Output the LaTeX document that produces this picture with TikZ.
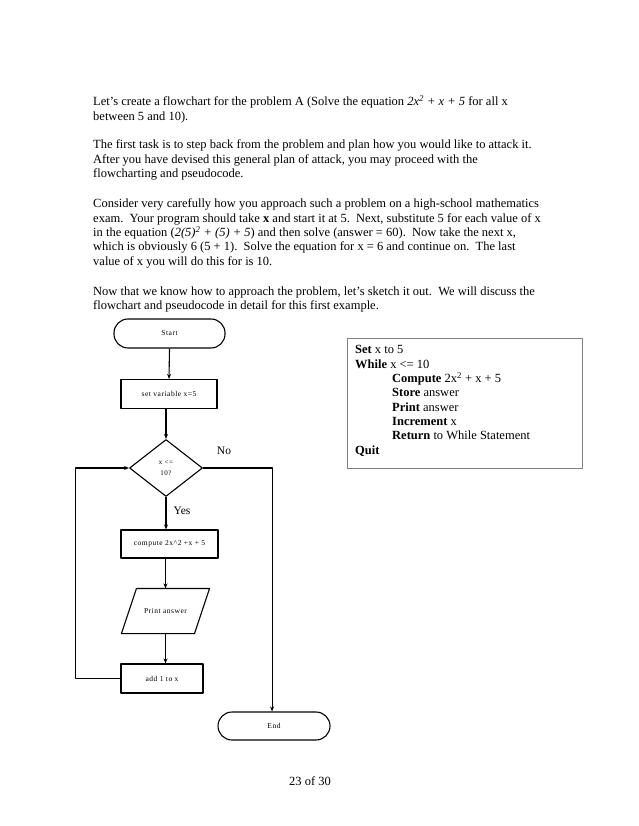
\documentclass[tikz,border=0pt]{standalone}
\usepackage{fontspec}
\setmainfont{Liberation Serif}
\usetikzlibrary{shapes.geometric,arrows.meta}

\tikzset{
  para/.style={anchor=north west, inner sep=0pt, align=left, font=\fontsize{12.5}{14.4}\selectfont},
  chart/.style={draw, inner sep=0pt, line width=1.1pt, font=\fontsize{7.5}{9}\selectfont\addfontfeature{LetterSpace=7}},
  term/.style={chart, rectangle, rounded corners=14pt, minimum width=111pt, minimum height=29pt},
  procbox/.style={chart, rectangle, minimum height=29pt},
  decide/.style={chart, diamond, minimum width=73pt, minimum height=57pt, align=center, font=\fontsize{7}{11}\selectfont\addfontfeature{LetterSpace=7}},
  iobox/.style={chart, draw=none, rectangle, minimum width=72pt, minimum height=44pt},
  flow/.style={line width=1.1pt, -{Stealth[length=5pt,width=4pt]}},
  answer/.style={inner sep=0pt, font=\fontsize{11.5}{13}\selectfont}
}

\begin{document}
\begin{tikzpicture}[x=1pt, y=-1pt, line join=round]
  \useasboundingbox[fill=white] (0,0) rectangle (638,826);

  % text of the page
  \node[para] (p1) at (93,95.5) {Let’s create a flowchart for the problem A (Solve the equation \textit{2x\textsuperscript{2} + x + 5} for all x\\
    between 5 and 10).};
  \node[para] (p2) at (93,139.9) {The first task is to step back from the problem and plan how you would like to attack it.\\
    After you have devised this general plan of attack, you may proceed with the\\
    flowcharting and pseudocode.};
  \node[para] (p3) at (93,198.7) {Consider very carefully how you approach such a problem on a high-school mathematics\\
    exam.\ \ Your program should take \textbf{x} and start it at 5.\ \ Next, substitute 5 for each value of x\\
    in the equation (\textit{2(5)\textsuperscript{2} + (5) + 5}) and then solve (answer = 60).\ \ Now take the next x,\\
    which is obviously 6 (5 + 1).\ \ Solve the equation for x = 6 and continue on.\ \ The last\\
    value of x you will do this for is 10.};
  \node[para] (p4) at (93,286.3) {Now that we know how to approach the problem, let’s sketch it out.\ \ We will discuss the\\
    flowchart and pseudocode in detail for this first example.};

  % flowchart
  \node[term] (start) at (169.5,333.5) {Start};
  \node[procbox, minimum width=96pt] (setx) at (169,394) {set variable x=5};
  \node[decide] (test) at (166,468) {x <=\\10?};
  \node[procbox, minimum width=97pt, minimum height=28pt] (compute) at (169.5,544) {compute 2x\^{}2 +x + 5};
  \node[iobox] (printans) at (165.5,611) {Print answer};
  \draw[line width=1.1pt] ([xshift=7.5pt]printans.north west) -- ([xshift=7.5pt]printans.north east)
    -- ([xshift=-7.5pt]printans.south east) -- ([xshift=-7.5pt]printans.south west) -- cycle;
  \node[procbox, minimum width=82pt] (addone) at (162,678.5) {add 1 to x};
  \node[term, minimum width=112pt, minimum height=28pt] (finish) at (274,726) {End};

  \node[answer] (no) at (224,451) {No};
  \node[answer] (yes) at (182,511) {Yes};

  \draw[flow] (start.south) -- (setx.north);
  \draw[flow] (setx.south -| test.north) -- (test.north);
  \draw[flow] (test.south) -- (test.south |- compute.north);
  \draw[flow] (compute.south -| printans.north) -- (printans.north);
  \draw[flow] (printans.south) -- (printans.south |- addone.north);
  \draw[flow] (addone.west) -- ++(-45,0) |- (test.west);
  \draw[flow] (test.east) -- ++(69,0) coordinate (turn) -- (turn |- finish.north);

  % pseudocode
  \draw[gray, line width=0.9pt] (347,338) rectangle (582,468);
  \node[para, font=\fontsize{12.5}{14.3}\selectfont] (pseudo) at (355,345.5) {\textbf{Set} x to 5\\
    \textbf{While} x <= 10\\
    \hspace*{37pt}\textbf{Compute} 2x\textsuperscript{2} + x + 5\\
    \hspace*{37pt}\textbf{Store} answer\\
    \hspace*{37pt}\textbf{Print} answer\\
    \hspace*{37pt}\textbf{Increment} x\\
    \hspace*{37pt}\textbf{Return} to While Statement\\
    \textbf{Quit}};

  \node[para, anchor=center] (pagenum) at (310,781) {23 of 30};
\end{tikzpicture}
\end{document}
